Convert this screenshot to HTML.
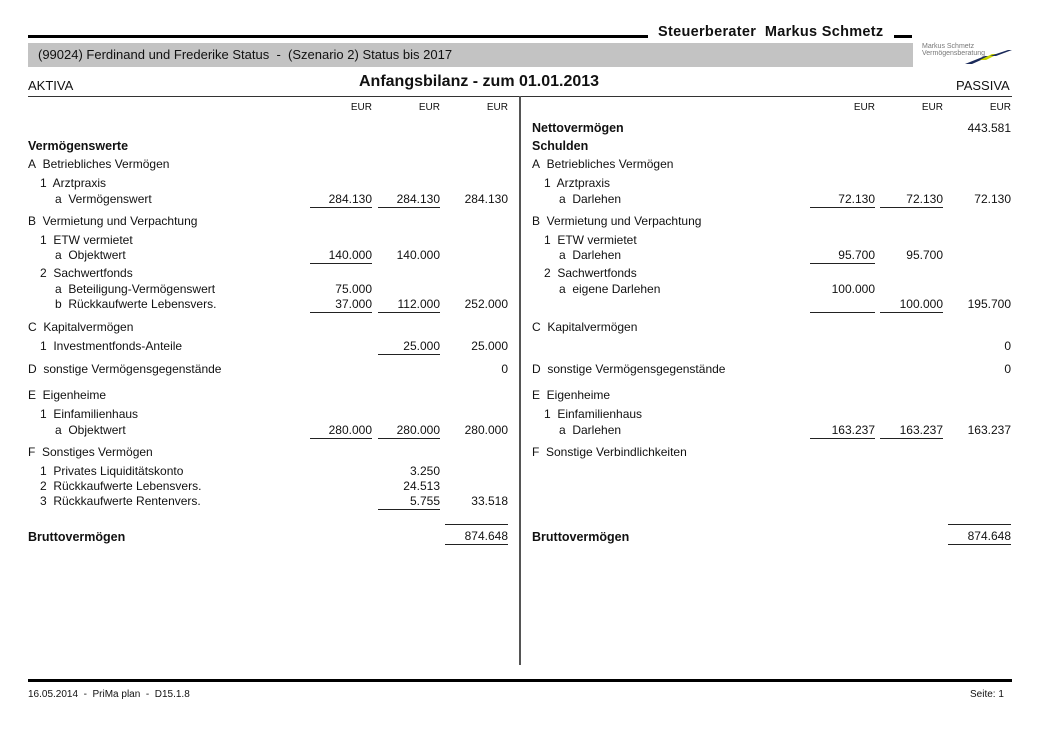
<!DOCTYPE html>
<html><head><meta charset="utf-8"><style>
body{margin:0;width:1040px;height:735px;background:#fff;position:relative;overflow:hidden;font-family:"Liberation Sans",Arial,sans-serif;color:#111}
div{position:absolute;white-space:nowrap}
.t{font-size:12px;line-height:14px}
.b{font-weight:bold;font-size:12.5px}
.n{font-size:12px;line-height:14px;text-align:right;width:70px}
.u{position:absolute;height:1px;background:#222}
.s{font-size:10px}
</style></head><body>
<div style="left:28px;top:35px;width:620px;height:3px;background:#000"></div>
<div style="left:658px;top:24px;font-size:14.5px;font-weight:bold;letter-spacing:0.3px">Steuerberater&nbsp; Markus Schmetz</div>
<div style="left:894px;top:35px;width:18px;height:3px;background:#000"></div>
<div style="left:28px;top:43px;width:885px;height:24px;background:#c3c3c3"></div>
<div style="left:38px;top:47px;font-size:13px">(99024) Ferdinand und Frederike Status&nbsp; -&nbsp; (Szenario 2) Status bis 2017</div>
<div style="left:922px;top:43px;font-size:7px;color:#777;line-height:7px">Markus Schmetz<br>Vermögensberatung</div>
<svg style="position:absolute;left:960px;top:50px" width="55" height="16"><polygon points="5,14 25,6 30,6 12,14" fill="#1a2a5a"/><polygon points="20,10 32,4 38,4 26,10" fill="#c8d400"/><polygon points="30,6 48,0 52,0 36,6" fill="#1a2a5a"/></svg>
<div style="left:28px;top:78px;font-size:13px">AKTIVA</div>
<div style="left:359px;top:73px;font-size:16px;font-weight:bold">Anfangsbilanz - zum 01.01.2013</div>
<div style="left:956px;top:78px;font-size:13px">PASSIVA</div>
<div style="left:28px;top:96px;width:984px;height:1px;background:#333"></div>
<div style="left:519px;top:96px;width:2px;height:569px;background:#555"></div>
<div style="left:28px;top:679px;width:984px;height:3px;background:#000"></div>
<div class="s" style="left:28px;top:689px">16.05.2014&nbsp; -&nbsp; PriMa plan&nbsp; -&nbsp; D15.1.8</div>
<div class="s" style="left:970px;top:689px">Seite: 1</div>

<div class="n s" style="left:302px;top:101px">EUR</div><div class="n s" style="left:370px;top:101px">EUR</div><div class="n s" style="left:438px;top:101px">EUR</div>
<div class="n s" style="left:805px;top:101px">EUR</div><div class="n s" style="left:873px;top:101px">EUR</div><div class="n s" style="left:941px;top:101px">EUR</div>

<div class="t b" style="left:28px;top:139px">Vermögenswerte</div>
<div class="t" style="left:28px;top:157px">A&nbsp; Betriebliches Vermögen</div>
<div class="t" style="left:40px;top:176px">1&nbsp; Arztpraxis</div>
<div class="t" style="left:55px;top:192px">a&nbsp; Vermögenswert</div>
<div class="n" style="left:302px;top:192px">284.130</div><div class="n" style="left:370px;top:192px">284.130</div><div class="n" style="left:438px;top:192px">284.130</div>
<div class="u" style="left:310px;top:207px;width:62px"></div><div class="u" style="left:378px;top:207px;width:62px"></div>
<div class="t" style="left:28px;top:214px">B&nbsp; Vermietung und Verpachtung</div>
<div class="t" style="left:40px;top:233px">1&nbsp; ETW vermietet</div>
<div class="t" style="left:55px;top:248px">a&nbsp; Objektwert</div>
<div class="n" style="left:302px;top:248px">140.000</div><div class="n" style="left:370px;top:248px">140.000</div>
<div class="u" style="left:310px;top:263px;width:62px"></div>
<div class="t" style="left:40px;top:266px">2&nbsp; Sachwertfonds</div>
<div class="t" style="left:55px;top:282px">a&nbsp; Beteiligung-Vermögenswert</div>
<div class="n" style="left:302px;top:282px">75.000</div>
<div class="t" style="left:55px;top:297px">b&nbsp; Rückkaufwerte Lebensvers.</div>
<div class="n" style="left:302px;top:297px">37.000</div><div class="n" style="left:370px;top:297px">112.000</div><div class="n" style="left:438px;top:297px">252.000</div>
<div class="u" style="left:310px;top:312px;width:62px"></div><div class="u" style="left:378px;top:312px;width:62px"></div>
<div class="t" style="left:28px;top:320px">C&nbsp; Kapitalvermögen</div>
<div class="t" style="left:40px;top:339px">1&nbsp; Investmentfonds-Anteile</div>
<div class="n" style="left:370px;top:339px">25.000</div><div class="n" style="left:438px;top:339px">25.000</div>
<div class="u" style="left:378px;top:354px;width:62px"></div>
<div class="t" style="left:28px;top:362px">D&nbsp; sonstige Vermögensgegenstände</div>
<div class="n" style="left:438px;top:362px">0</div>
<div class="t" style="left:28px;top:388px">E&nbsp; Eigenheime</div>
<div class="t" style="left:40px;top:407px">1&nbsp; Einfamilienhaus</div>
<div class="t" style="left:55px;top:423px">a&nbsp; Objektwert</div>
<div class="n" style="left:302px;top:423px">280.000</div><div class="n" style="left:370px;top:423px">280.000</div><div class="n" style="left:438px;top:423px">280.000</div>
<div class="u" style="left:310px;top:438px;width:62px"></div><div class="u" style="left:378px;top:438px;width:62px"></div>
<div class="t" style="left:28px;top:445px">F&nbsp; Sonstiges Vermögen</div>
<div class="t" style="left:40px;top:464px">1&nbsp; Privates Liquiditätskonto</div><div class="n" style="left:370px;top:464px">3.250</div>
<div class="t" style="left:40px;top:479px">2&nbsp; Rückkaufwerte Lebensvers.</div><div class="n" style="left:370px;top:479px">24.513</div>
<div class="t" style="left:40px;top:494px">3&nbsp; Rückkaufwerte Rentenvers.</div><div class="n" style="left:370px;top:494px">5.755</div><div class="n" style="left:438px;top:494px">33.518</div>
<div class="u" style="left:378px;top:509px;width:62px"></div>
<div class="u" style="left:445px;top:524px;width:63px"></div>
<div class="t b" style="left:28px;top:530px">Bruttovermögen</div>
<div class="n" style="left:438px;top:529px">874.648</div>
<div class="u" style="left:445px;top:544px;width:63px"></div>

<div class="t b" style="left:532px;top:121px">Nettovermögen</div><div class="n" style="left:941px;top:121px">443.581</div>
<div class="t b" style="left:532px;top:139px">Schulden</div>
<div class="t" style="left:532px;top:157px">A&nbsp; Betriebliches Vermögen</div>
<div class="t" style="left:544px;top:176px">1&nbsp; Arztpraxis</div>
<div class="t" style="left:559px;top:192px">a&nbsp; Darlehen</div>
<div class="n" style="left:805px;top:192px">72.130</div><div class="n" style="left:873px;top:192px">72.130</div><div class="n" style="left:941px;top:192px">72.130</div>
<div class="u" style="left:810px;top:207px;width:65px"></div><div class="u" style="left:880px;top:207px;width:63px"></div>
<div class="t" style="left:532px;top:214px">B&nbsp; Vermietung und Verpachtung</div>
<div class="t" style="left:544px;top:233px">1&nbsp; ETW vermietet</div>
<div class="t" style="left:559px;top:248px">a&nbsp; Darlehen</div>
<div class="n" style="left:805px;top:248px">95.700</div><div class="n" style="left:873px;top:248px">95.700</div>
<div class="u" style="left:810px;top:263px;width:65px"></div>
<div class="t" style="left:544px;top:266px">2&nbsp; Sachwertfonds</div>
<div class="t" style="left:559px;top:282px">a&nbsp; eigene Darlehen</div><div class="n" style="left:805px;top:282px">100.000</div>
<div class="n" style="left:873px;top:297px">100.000</div><div class="n" style="left:941px;top:297px">195.700</div>
<div class="u" style="left:810px;top:312px;width:65px"></div><div class="u" style="left:880px;top:312px;width:63px"></div>
<div class="t" style="left:532px;top:320px">C&nbsp; Kapitalvermögen</div>
<div class="n" style="left:941px;top:339px">0</div>
<div class="t" style="left:532px;top:362px">D&nbsp; sonstige Vermögensgegenstände</div><div class="n" style="left:941px;top:362px">0</div>
<div class="t" style="left:532px;top:388px">E&nbsp; Eigenheime</div>
<div class="t" style="left:544px;top:407px">1&nbsp; Einfamilienhaus</div>
<div class="t" style="left:559px;top:423px">a&nbsp; Darlehen</div>
<div class="n" style="left:805px;top:423px">163.237</div><div class="n" style="left:873px;top:423px">163.237</div><div class="n" style="left:941px;top:423px">163.237</div>
<div class="u" style="left:810px;top:438px;width:65px"></div><div class="u" style="left:880px;top:438px;width:63px"></div>
<div class="t" style="left:532px;top:445px">F&nbsp; Sonstige Verbindlichkeiten</div>
<div class="u" style="left:948px;top:524px;width:63px"></div>
<div class="t b" style="left:532px;top:530px">Bruttovermögen</div>
<div class="n" style="left:941px;top:529px">874.648</div>
<div class="u" style="left:948px;top:544px;width:63px"></div>
</body></html>
